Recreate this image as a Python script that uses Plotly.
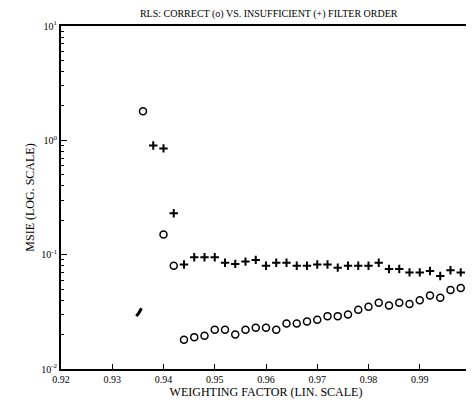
import plotly.graph_objects as go

x_o = [0.936, 0.940, 0.942] + [round(0.944 + 0.002*i, 3) for i in range(29)]
y_o = [1.8, 0.15, 0.08,
       0.018, 0.019, 0.0195, 0.022, 0.022, 0.020, 0.022, 0.023, 0.023, 0.022,
       0.025, 0.025, 0.026, 0.027, 0.029, 0.029, 0.030, 0.033, 0.035, 0.038,
       0.036, 0.038, 0.037, 0.040, 0.044, 0.042, 0.049, 0.051, 0.052]
x_p = [0.938, 0.940, 0.942] + [round(0.944 + 0.002*i, 3) for i in range(28)]
y_p = [0.9, 0.85, 0.23,
       0.082, 0.095, 0.095, 0.095, 0.085, 0.083, 0.087, 0.09, 0.08, 0.085,
       0.085, 0.08, 0.08, 0.082, 0.082, 0.077, 0.08, 0.08, 0.08, 0.085,
       0.075, 0.075, 0.07, 0.07, 0.072, 0.065, 0.073, 0.07]
x_blob = [0.9347, 0.9352, 0.9357]
y_blob = [0.029, 0.031, 0.034]
minor_vals = [m * 10**e for e in (-2, -1, 0) for m in range(2, 10)]

fig = go.Figure()
fig.add_trace(go.Scatter(x=x_o, y=y_o, mode="markers", cliponaxis=False,
    marker=dict(symbol="circle-open", size=7, color="black", line=dict(width=1.5))))
fig.add_trace(go.Scatter(x=x_p, y=y_p, mode="markers", cliponaxis=False,
    marker=dict(symbol="cross-thin-open", size=6, color="black", line=dict(width=2))))
fig.add_trace(go.Scatter(x=x_blob, y=y_blob, mode="lines",
    line=dict(color="black", width=3)))

font = dict(family="Liberation Serif", size=10, color="black")
fig.update_layout(
    width=474, height=414, showlegend=False,
    paper_bgcolor="white", plot_bgcolor="white",
    margin=dict(l=53, r=8, t=18, b=53),
    font=font,
    title=dict(text="RLS: CORRECT (o) VS. INSUFFICIENT (+) FILTER ORDER",
               x=0.55, xanchor="center", y=0.995, yanchor="top", font=dict(family="Liberation Serif", size=10)),
)
fig.update_xaxes(range=[0.92, 1.0], tickvals=[0.92,0.93,0.94,0.95,0.96,0.97,0.98,0.99,1.0],
    ticktext=["0.92","0.93","0.94","0.95","0.96","0.97","0.98","0.99","1"],
    showline=True, linecolor="black", linewidth=2, mirror=True, ticks="inside",
    ticklen=5, tickcolor="black", showgrid=False, zeroline=False,
    title=dict(text="WEIGHTING FACTOR (LIN. SCALE)", standoff=2))
fig.update_yaxes(type="log", range=[-2, 1],
    tickvals=[0.01, 0.1, 1, 10], ticktext=["10<sup>-2</sup>","10<sup>-1</sup>","10<sup>0</sup>","10<sup>1</sup>"],
    minor=dict(ticks="inside", ticklen=3, tickcolor="black", tickvals=minor_vals, showgrid=False),
    showline=True, linecolor="black", linewidth=2, mirror=True, ticks="inside",
    ticklen=6, tickcolor="black", showgrid=False, zeroline=False,
    title=dict(text="MSIE (LOG. SCALE)", standoff=4))
fig.write_html("out.html")
